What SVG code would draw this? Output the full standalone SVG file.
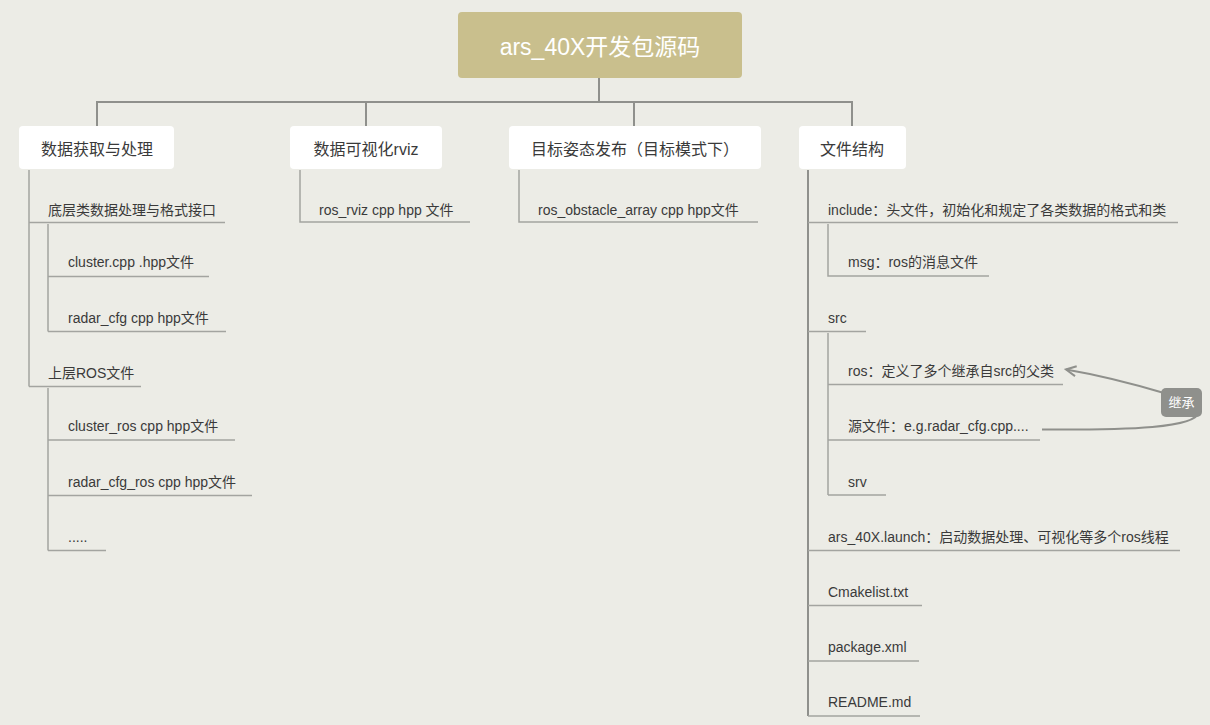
<svg xmlns="http://www.w3.org/2000/svg" width="1210" height="725" viewBox="0 0 1210 725">
<style>
.t{font-family:"Liberation Sans","Noto Sans CJK SC",sans-serif;fill:#3a3a3a;font-size:14px}
.b{font-size:16px;text-anchor:middle}
.box{fill:#ffffff}
.ln{fill:none;stroke:#8f908c;stroke-width:2}
.sl{fill:none;stroke:#a3a4a0;stroke-width:1.5}
</style>
<defs>
<marker id="arr" markerWidth="14" markerHeight="14" refX="11" refY="6" orient="auto" markerUnits="userSpaceOnUse">
<path d="M1,1 L11,6 L1,11" fill="none" stroke="#8f908c" stroke-width="2"/>
</marker>
</defs>
<rect width="1210" height="725" fill="#ecece6"/>
<g id="connectors">
<path class="ln" d="M599,78 V102 M97,126 V102 H852 V126 M366,102 V126 M634,102 V126"/>
<path class="sl" d="M29,170 V386.5 M29,222.5 H225 M29,386.5 H141"/>
<path class="sl" d="M48,224 V331.5 M48,276.5 H209 M48,331.5 H226"/>
<path class="sl" d="M48,388 V550.5 M48,440 H235 M48,495.5 H252 M48,550.5 H106"/>
<path class="sl" d="M300,170 V222 H470"/>
<path class="sl" d="M519,170 V222 H758"/>
<path class="ln" d="M808,170 V716"/>
<path class="sl" d="M808,222.5 H1178 M808,331.5 H866 M808,550.5 H1180 M808,605.5 H922 M808,661 H919 M808,716 H920"/>
<path class="sl" d="M828,224 V276 H989"/>
<path class="sl" d="M828,333 V495 M828,384.5 H1063 M828,440 H1040 M828,495 H886"/>
<path class="ln" d="M1042,429.5 C1130,430 1196,428 1199,412"/>
<path class="ln" d="M1164,393 Q1110,377 1066,369.5" marker-end="url(#arr)"/>
</g>
<g id="root">
<rect x="458" y="12" width="284" height="66" rx="4" fill="#c9bf8d"/>
<text x="600" y="55" class="t" style="font-size:23px;fill:#ffffff;text-anchor:middle">ars_40X开发包源码</text>
</g>
<g id="n1">
<rect class="box" x="19" y="126" width="155" height="43" rx="4"/>
<text class="t b" x="97" y="155">数据获取与处理</text>
</g>
<g id="n2">
<rect class="box" x="290" y="126" width="152" height="43" rx="4"/>
<text class="t b" x="366" y="155">数据可视化rviz</text>
</g>
<g id="n3">
<rect class="box" x="509" y="126" width="252" height="43" rx="4"/>
<text class="t b" x="635" y="155">目标姿态发布（目标模式下）</text>
</g>
<g id="n4">
<rect class="box" x="799" y="126" width="107" height="43" rx="4"/>
<text class="t b" x="852" y="155">文件结构</text>
</g>
<g id="n1a"><text class="t" x="48" y="215">底层类数据处理与格式接口</text></g>
<g id="n1a1"><text class="t" x="68" y="267">cluster.cpp .hpp文件</text></g>
<g id="n1a2"><text class="t" x="68" y="323">radar_cfg cpp hpp文件</text></g>
<g id="n1b"><text class="t" x="48" y="378">上层ROS文件</text></g>
<g id="n1b1"><text class="t" x="68" y="431">cluster_ros cpp hpp文件</text></g>
<g id="n1b2"><text class="t" x="68" y="487">radar_cfg_ros cpp hpp文件</text></g>
<g id="n1b3"><text class="t" x="68" y="542">.....</text></g>
<g id="n2a"><text class="t" x="319" y="215">ros_rviz cpp hpp 文件</text></g>
<g id="n3a"><text class="t" x="538" y="215">ros_obstacle_array cpp hpp文件</text></g>
<g id="n4a"><text class="t" x="828" y="215">include：头文件，初始化和规定了各类数据的格式和类</text></g>
<g id="n4a1"><text class="t" x="848" y="267">msg：ros的消息文件</text></g>
<g id="n4b"><text class="t" x="828" y="323">src</text></g>
<g id="n4b1"><text class="t" x="848" y="376">ros：定义了多个继承自src的父类</text></g>
<g id="n4b2"><text class="t" x="848" y="431">源文件：e.g.radar_cfg.cpp....</text></g>
<g id="n4b3"><text class="t" x="848" y="487">srv</text></g>
<g id="n4c"><text class="t" x="828" y="542">ars_40X.launch：启动数据处理、可视化等多个ros线程</text></g>
<g id="n4d"><text class="t" x="828" y="597">Cmakelist.txt</text></g>
<g id="n4e"><text class="t" x="828" y="652">package.xml</text></g>
<g id="n4f"><text class="t" x="828" y="707">README.md</text></g>
<g id="rel">
<rect x="1161" y="388" width="41" height="29" rx="5" fill="#8f908c"/>
<text x="1181.5" y="407" class="t" style="font-size:13px;fill:#ffffff;text-anchor:middle">继承</text>
</g>
</svg>
